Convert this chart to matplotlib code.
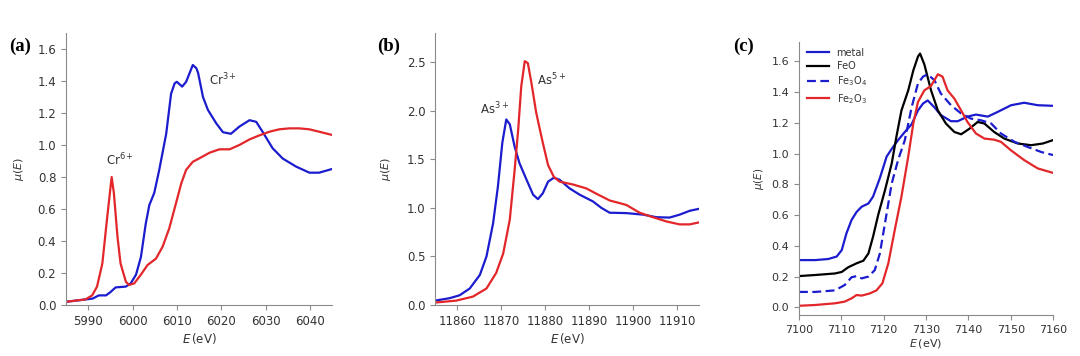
import numpy as np
import matplotlib.pyplot as plt

# ---- panel (a): Cr K-edge ----
cr3_e = [5985, 5991, 5992.4, 5994, 5995, 5996.2, 5998.5, 5999.6, 6000.8, 6001.9, 6003, 6003.8,
         6004.9, 6006, 6007.6, 6008.7, 6009.5, 6010, 6011.2, 6012.1, 6013.6, 6014.4, 6014.8,
         6015.9, 6017, 6018.9, 6020.4, 6022.2, 6024.1, 6026.4, 6027.9, 6029.4, 6031.6, 6033.9,
         6036.9, 6039.9, 6042.1, 6045]
cr3_mu = [0.02, 0.04, 0.06, 0.06, 0.08, 0.11, 0.115, 0.135, 0.19, 0.30, 0.51, 0.625,
          0.70, 0.84, 1.07, 1.32, 1.385, 1.395, 1.365, 1.395, 1.50, 1.48, 1.45,
          1.30, 1.22, 1.135, 1.08, 1.07, 1.115, 1.155, 1.145, 1.08, 0.98, 0.915,
          0.865, 0.827, 0.827, 0.85]
cr6_e = [5985, 5989.4, 5990.9, 5992, 5993.2, 5994.3, 5995.3, 5995.8, 5996.6, 5997.3, 5998.5,
         5999.2, 6000.4, 6001.9, 6003.4, 6005.3, 6006.8, 6008.3, 6009.8, 6011, 6012.1, 6013.6,
         6015.1, 6017.4, 6019.6, 6021.9, 6024.1, 6026.4, 6028.6, 6030.9, 6033.1, 6035.4,
         6037.6, 6039.9, 6042.1, 6045]
cr6_mu = [0.02, 0.035, 0.06, 0.115, 0.26, 0.55, 0.80, 0.70, 0.43, 0.26, 0.146,
          0.125, 0.135, 0.19, 0.25, 0.29, 0.365, 0.48, 0.635, 0.76, 0.845, 0.895,
          0.917, 0.952, 0.973, 0.973, 1.0, 1.035, 1.06, 1.083, 1.098, 1.104,
          1.104, 1.098, 1.083, 1.063]

# ---- panel (b): As K-edge ----
as3_e = [11855, 11858.3, 11860.6, 11862.9, 11865.2, 11866.7, 11868.2, 11869.3, 11870.3, 11871.2,
         11872, 11873.1, 11874.2, 11875.8, 11877.3, 11878.4, 11879.5, 11880.7, 11882, 11883.3,
         11885.6, 11887.9, 11890.9, 11892.8, 11894.7, 11898.5, 11902.3, 11905.3, 11908.3,
         11910.6, 11912.9, 11915]
as3_mu = [0.045, 0.07, 0.10, 0.17, 0.31, 0.50, 0.84, 1.22, 1.67, 1.91,
          1.86, 1.63, 1.46, 1.29, 1.135, 1.09, 1.15, 1.27, 1.31, 1.29,
          1.20, 1.135, 1.066, 1.0, 0.95, 0.946, 0.93, 0.904, 0.90,
          0.93, 0.97, 0.99]
as5_e = [11855, 11859.8, 11863.6, 11866.7, 11868.9, 11870.5, 11872, 11873.1, 11873.9, 11874.6,
         11875.4, 11876.1, 11876.9, 11878, 11879.5, 11880.7, 11882, 11883.3, 11886.4, 11889.4,
         11891.7, 11894.7, 11898.5, 11901.5, 11904.5, 11907.6, 11910.6, 11912.9, 11915]
as5_mu = [0.025, 0.045, 0.086, 0.17, 0.33, 0.53, 0.88, 1.39, 1.80, 2.25,
          2.51, 2.49, 2.29, 1.98, 1.67, 1.44, 1.32, 1.27, 1.24, 1.20,
          1.145, 1.076, 1.03, 0.95, 0.904, 0.86, 0.83, 0.83, 0.85]

# ---- panel (c): Fe K-edge ----
metal_e = [7100, 7103.8, 7106.9, 7108.9, 7110.1, 7111.2, 7112.4, 7113.6, 7114.8, 7116.4, 7117.5,
           7119.1, 7120.7, 7121.9, 7123.4, 7125, 7126.6, 7128.1, 7129.3, 7130.4, 7132, 7133.5,
           7135.9, 7137.5, 7139.8, 7141.8, 7144.6, 7146.9, 7150.1, 7153.2, 7156.4, 7160]
metal_mu = [0.307, 0.307, 0.314, 0.33, 0.372, 0.48, 0.567, 0.62, 0.654, 0.675, 0.72,
            0.84, 0.98, 1.03, 1.087, 1.14, 1.19, 1.28, 1.325, 1.345, 1.30, 1.25,
            1.21, 1.21, 1.24, 1.253, 1.24, 1.27, 1.314, 1.33, 1.314, 1.31]
feo_e = [7100, 7103.8, 7108.5, 7110.1, 7111.6, 7113.6, 7115.2, 7116.4, 7117.5, 7118.7, 7120.3,
         7121.9, 7123, 7124.2, 7125.8, 7127, 7128.1, 7128.6, 7129.6, 7131.2, 7132.8, 7134.7,
         7136.7, 7138.3, 7140.2, 7142.2, 7143.8, 7146.1, 7148.5, 7151.7, 7154.8, 7157.6, 7160]
feo_mu = [0.203, 0.21, 0.22, 0.23, 0.26, 0.286, 0.303, 0.35, 0.46, 0.60, 0.76,
          0.935, 1.108, 1.28, 1.41, 1.54, 1.63, 1.65, 1.58, 1.41, 1.28, 1.195,
          1.14, 1.125, 1.16, 1.205, 1.195, 1.14, 1.097, 1.065, 1.054, 1.065, 1.087]
fe3o4_e = [7100, 7103.8, 7108.5, 7110.8, 7112.4, 7113.6, 7114.8, 7116.4, 7117.9, 7119.1, 7120.3,
           7121.9, 7123.4, 7125, 7126.6, 7128.1, 7129.3, 7130.4, 7132, 7133.5, 7135.9, 7138.3,
           7140.6, 7143, 7145.4, 7147.7, 7150.9, 7154, 7157.2, 7160]
fe3o4_mu = [0.10, 0.10, 0.11, 0.145, 0.195, 0.203, 0.188, 0.20, 0.242, 0.35, 0.545,
            0.805, 0.957, 1.087, 1.30, 1.455, 1.50, 1.515, 1.476, 1.39, 1.314, 1.26,
            1.227, 1.216, 1.195, 1.13, 1.076, 1.043, 1.01, 0.99]
fe2o3_e = [7100, 7103.8, 7108.5, 7110.8, 7112.4, 7113.6, 7114.8, 7116.7, 7118.3, 7119.7, 7121.1,
           7122.6, 7124.2, 7125.8, 7127, 7128.1, 7129.6, 7131.2, 7132.8, 7133.9, 7135.1, 7136.7,
           7138.3, 7139.8, 7141.8, 7143.8, 7146.1, 7147.7, 7150.1, 7153.2, 7156.4, 7160]
fe2o3_mu = [0.01, 0.015, 0.026, 0.037, 0.058, 0.08, 0.076, 0.09, 0.11, 0.156, 0.286,
            0.50, 0.72, 0.98, 1.195, 1.335, 1.41, 1.44, 1.515, 1.50, 1.41, 1.357,
            1.28, 1.205, 1.13, 1.097, 1.09, 1.076, 1.02, 0.957, 0.903, 0.874]

BLUE = '#1c1ccf'
RED = '#e3262a'
W, H = 1080, 356

plt.rcParams['font.family'] = 'DejaVu Sans'
fig = plt.figure(figsize=(W / 100, H / 100), dpi=100)


def box(l, t, r, b):
    return [l / W, 1 - b / H, (r - l) / W, (b - t) / H]


def style(ax, fs, ylab_x):
    for s in ['top', 'right']:
        ax.spines[s].set_visible(False)
    for s in ['left', 'bottom']:
        ax.spines[s].set_color('#8a8a8a')
    ax.tick_params(colors='#8a8a8a', labelcolor='#333333', labelsize=fs, length=3.5)
    ax.set_xlabel('$E\\,$(eV)', fontsize=fs, color='#333333', labelpad=2)
    ax.set_ylabel('$\\mu(E)$', fontsize=fs - 0.5, color='#333333')
    ax.yaxis.set_label_coords(ylab_x, 0.5)


lw = 1.6

ax = fig.add_axes(box(66, 33, 332, 305))
ax.plot(cr3_e, cr3_mu, color=BLUE, lw=lw)
ax.plot(cr6_e, cr6_mu, color=RED, lw=lw)
ax.set_xlim(5985, 6045)
ax.set_ylim(0, 1.7)
ax.set_xticks(np.arange(5990, 6041, 10))
ax.set_yticks(np.arange(0, 1.61, 0.2))
ax.text(5994.1, 0.875, 'Cr$^{6+}$', fontsize=8.5, color='#333333')
ax.text(6017.2, 1.375, 'Cr$^{3+}$', fontsize=8.5, color='#333333')
style(ax, 8.5, -0.15)

ax = fig.add_axes(box(435, 33, 699, 305))
ax.plot(as3_e, as3_mu, color=BLUE, lw=lw)
ax.plot(as5_e, as5_mu, color=RED, lw=lw)
ax.set_xlim(11855, 11915)
ax.set_ylim(0, 2.8)
ax.set_xticks(np.arange(11860, 11911, 10))
ax.set_yticks(np.arange(0, 2.51, 0.5))
ax.text(11865.2, 1.96, 'As$^{3+}$', fontsize=8.5, color='#333333')
ax.text(11878.2, 2.26, 'As$^{5+}$', fontsize=8.5, color='#333333')
style(ax, 8.5, -0.16)

ax = fig.add_axes(box(799, 42, 1053, 315))
ax.plot(metal_e, metal_mu, color=BLUE, lw=lw, label='metal')
ax.plot(feo_e, feo_mu, color='black', lw=lw, label='FeO')
ax.plot(fe3o4_e, fe3o4_mu, color=BLUE, lw=lw, ls=(0, (4, 2)), label='Fe$_3$O$_4$')
ax.plot(fe2o3_e, fe2o3_mu, color=RED, lw=lw, label='Fe$_2$O$_3$')
ax.set_xlim(7100, 7160)
ax.set_ylim(-0.05, 1.725)
ax.set_xticks(np.arange(7100, 7161, 10))
ax.set_yticks(np.arange(0, 1.61, 0.2))
leg = ax.legend(loc='upper left', frameon=False, fontsize=7, handlelength=2.2,
                borderaxespad=0.2, labelspacing=0.35, bbox_to_anchor=(0.01, 1.0))
for t in leg.get_texts():
    t.set_color('#333333')
style(ax, 8, -0.13)

for x, lab in [(9, '(a)'), (377, '(b)'), (733, '(c)')]:
    fig.text(x / W, 1 - 46 / H, lab, fontsize=13.5, fontweight='bold',
             family='Liberation Serif', va='center', ha='left')

fig.savefig('out.png', dpi=100, facecolor='white')
